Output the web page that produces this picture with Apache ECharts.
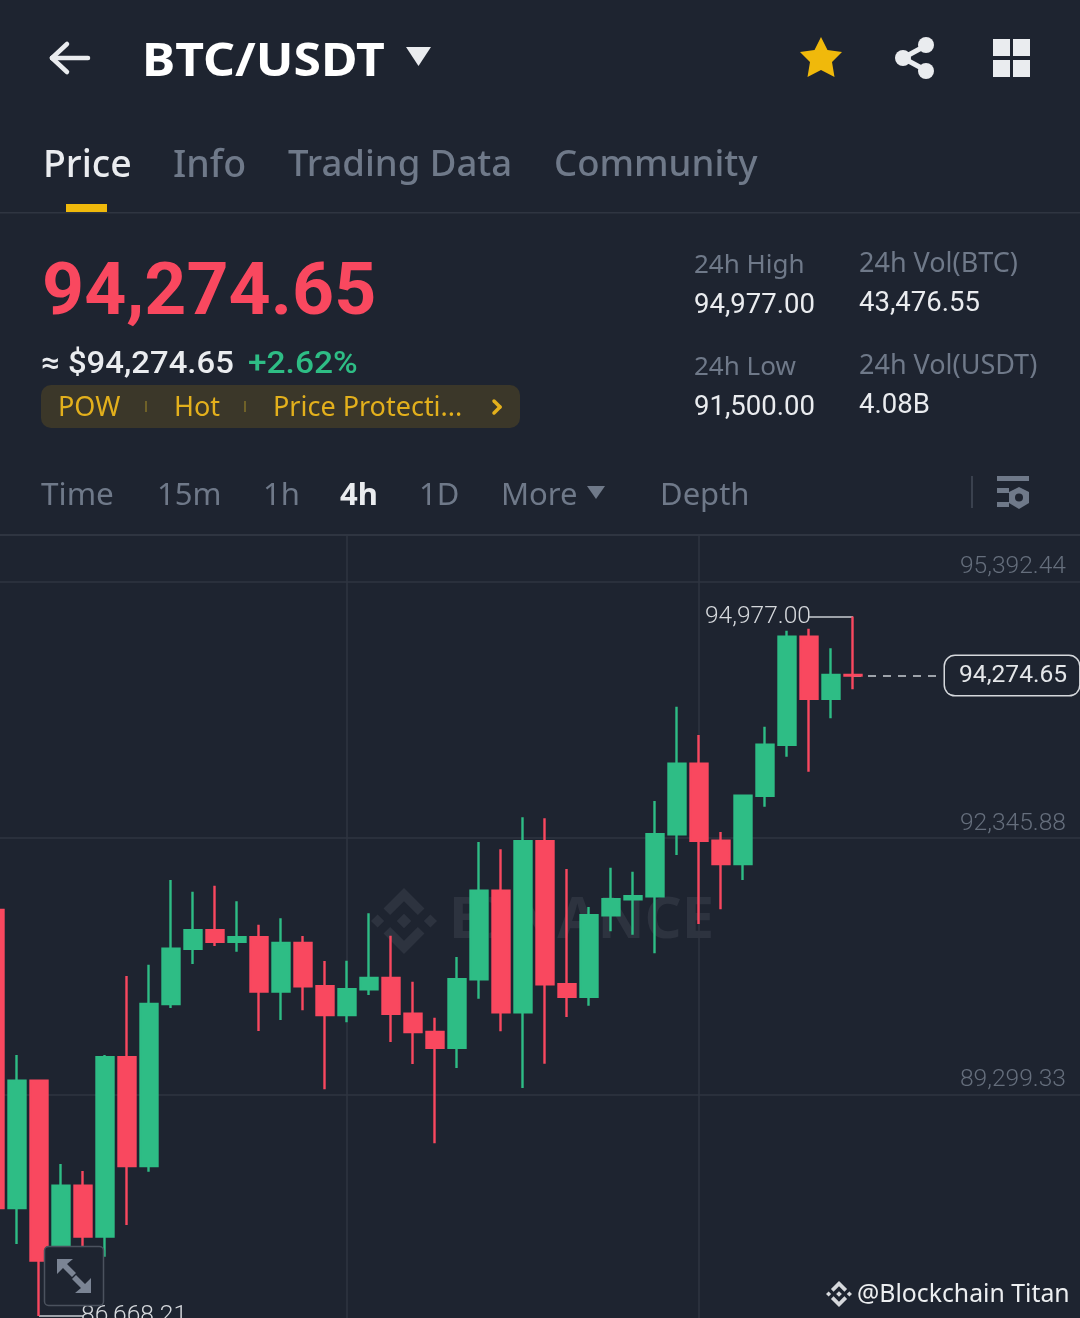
<!DOCTYPE html>
<html>
<head>
<meta charset="utf-8">
<title>BTC/USDT</title>
<script src="https://cdn.jsdelivr.net/npm/echarts@6/dist/echarts.min.js"></script>
<style>
  html, body { margin: 0; padding: 0; background: #1e2430; }
  #chart { width: 1080px; height: 1318px; }
</style>
</head>
<body>
<div id="chart"></div>
<script>
// candles, oldest first (4h)
var opens = [91491,87951,89463,87326,88216,87611,89741,88450,90374,91031,91250,91114,91167,90521,91099,90585,90244,90549,90683,90259,90042,89855,90668,91720,90276,92307,90608,90461,91428,91618,91654,92390,93228,92314,92037,92848,93454,94737,94000,94282];
var closes = [87951,89463,87326,88216,87611,89741,88450,90374,91031,91250,91114,91167,90521,91099,90585,90244,90549,90683,90259,90042,89855,90668,91720,90276,92307,90608,90461,91428,91618,91654,92390,93228,92314,92037,92848,93454,94737,94000,94282,94274.65];
var lows = [87868,87524,86668.21,87215,87488,87373,87750,88383,90327,90849,91063,90996,90054,90184,90300,89361,90157,90481,89923,89662,88720,89614,90437,90050,89377,89665,90220,90354,91238,91197,90977,92144,91325,91499,91847,92718,93312,93133,93768,94112];
var highs = [91550,89769,89470,88474,88391,89769,90707,90841,91847,91708,91779,91594,91316,91392,91182,90885,90889,91452,91186,90639,90212,90933,92298,92212,92592,92580,91978,91526,91993,91946,92785,93905,93569,92417,92848,93668,94808,94832,94599,94977];

var priceTicks = [89299.33, 92345.88, 95392.44];
var lastPrice = 94274.65;
var highIndex = 39;
var lowIndex = 2;

// axis range so the price scale lands on the same rows as the screenshot
var yMin = 86644.7;
var yMax = 95944.7;

var up = '#2ebd85';
var down = '#f9485f';
var bg = '#1e2430';
var gridColor = '#2f3541';
var grey = '#6f7989';
var white = '#eaecef';
var yellow = '#e3b01c';

// 40 candles plus the empty room on the right
var slots = Array.from({ length: 51 }, function (v, i) { return String(i); });

function fmt(v) {
  return v.toLocaleString('en-US', { minimumFractionDigits: 2, maximumFractionDigits: 2 });
}

function txt(x, y, text, size, color, weight, family, scaleX) {
  return {
    type: 'text', x: x, y: y, z: 20, scaleX: scaleX || 1, originX: 0,
    style: {
      text: text, fill: color, verticalAlign: 'middle', align: 'left',
      font: (weight || 400) + ' ' + size + 'px "' + (family || 'Noto Sans') + '"'
    }
  };
}
function poly(points, fill, z) {
  return { type: 'polygon', z: z || 20, shape: { points: points }, style: { fill: fill } };
}
function line(x1, y1, x2, y2, color, w, z) {
  return { type: 'line', z: z || 20, shape: { x1: x1, y1: y1, x2: x2, y2: y2 }, style: { stroke: color, lineWidth: w, lineCap: 'round' } };
}
function rect(x, y, w, h, r, fill, stroke, z) {
  return { type: 'rect', z: z === undefined ? 20 : z, shape: { x: x, y: y, width: w, height: h, r: r }, style: { fill: fill, stroke: stroke || null, lineWidth: stroke ? 1.5 : 0 } };
}
function dot(x, y, r, fill, z) {
  return { type: 'circle', z: z || 20, shape: { cx: x, cy: y, r: r }, style: { fill: fill } };
}
// binance mark: two chevrons and three small diamonds
function mark(cx, cy, s, fill, z) {
  function d(x, y, r) { return poly([[x, y - r], [x + r, y], [x, y + r], [x - r, y]], fill, z); }
  function chevron(sign) {
    return poly([
      [cx, cy + sign * s], [cx + 0.62 * s, cy + sign * 0.38 * s], [cx + 0.42 * s, cy + sign * 0.18 * s],
      [cx, cy + sign * 0.6 * s], [cx - 0.42 * s, cy + sign * 0.18 * s], [cx - 0.62 * s, cy + sign * 0.38 * s]
    ], fill, z);
  }
  return [chevron(-1), chevron(1), d(cx, cy, 0.22 * s), d(cx - 0.8 * s, cy, 0.2 * s), d(cx + 0.8 * s, cy, 0.2 * s)];
}

var watermark = txt(449, 921, 'BINANCE', 58, '#2d333f', 700);
watermark.z = 0;

var ui = [
  // top bar
  line(52, 58, 88, 58, white, 4.5),
  line(52, 58, 67, 44, white, 4.5),
  line(52, 58, 67, 72, white, 4.5),
  txt(142, 63, 'BTC/USDT', 46, '#ffffff', 700, 'Noto Sans', 1.085),
  poly([[406, 47], [431, 47], [418.5, 66]], white),
  poly([[821, 37], [827.5, 50], [842, 52], [832, 62], [834.5, 77], [821, 70], [807.5, 77], [810, 62], [800, 52], [814.5, 50]], '#f0b90b'),
  line(903, 58, 927, 45, white, 5), line(903, 58, 927, 71, white, 5),
  dot(903, 58, 8, white), dot(926, 45, 8, white), dot(926, 71, 8, white),
  rect(993, 39, 17, 17, 0, white), rect(1013, 39, 17, 17, 0, white),
  rect(993, 60, 17, 17, 0, white), rect(1013, 60, 17, 17, 0, white),
  // tabs
  txt(43, 166, 'Price', 37.5, white, 500),
  txt(173, 166, 'Info', 37.5, grey, 500),
  txt(288, 166, 'Trading Data', 36.5, grey, 500),
  txt(554, 166, 'Community', 36.5, grey, 500),
  rect(66, 204, 41, 8, 0, '#f0b90b'),
  rect(0, 212, 1080, 1.5, 0, gridColor),
  // price block
  txt(42, 296, fmt(lastPrice), 72, '#f9485f', 700, 'Roboto', 1.02),
  txt(41, 365, '\u2248 $' + fmt(lastPrice), 31, white, 500, 'Roboto', 1.06),
  txt(248, 365, '+2.62%', 31, up, 500, 'Roboto', 1.08),
  rect(41, 385, 479, 43, 10, '#3b3729'),
  txt(58, 408, 'POW', 27, yellow),
  rect(145, 401, 2, 11, 0, '#6f6128'),
  txt(174, 408, 'Hot', 27, yellow),
  rect(244, 401, 2, 11, 0, '#6f6128'),
  txt(273, 408, 'Price Protecti...', 27, yellow),
  line(494, 401, 500, 407, yellow, 3.5), line(500, 407, 494, 413, yellow, 3.5),
  // 24h stats
  txt(694, 266, '24h High', 26, grey),
  txt(694, 306, '94,977.00', 27, white, 400, 'Roboto', 1.02),
  txt(694, 368, '24h Low', 26, grey),
  txt(694, 408, '91,500.00', 27, white, 400, 'Roboto', 1.02),
  txt(859, 264, '24h Vol(BTC)', 27, grey),
  txt(859, 304, '43,476.55', 27, white, 400, 'Roboto', 1.02),
  txt(859, 366, '24h Vol(USDT)', 27, grey),
  txt(859, 406, '4.08B', 27, white, 400, 'Roboto', 1.02),
  // interval row
  txt(41, 496, 'Time', 31.5, grey),
  txt(157, 496, '15m', 31, grey),
  txt(263, 496, '1h', 31, grey),
  txt(340, 496, '4h', 31, white, 700),
  txt(419, 496, '1D', 31, grey),
  txt(501, 496, 'More', 31, grey),
  poly([[587, 486], [605, 486], [596, 499]], grey),
  txt(660, 496, 'Depth', 31, grey),
  rect(971, 476, 2, 32, 0, '#3a414e'),
  rect(997, 476, 32, 5, 0, grey), rect(997, 488, 12, 5, 0, grey), rect(997, 502, 12, 5, 0, grey),
  poly([[1019, 487], [1029, 492], [1029, 503], [1019, 509], [1009, 503], [1009, 492]], grey),
  dot(1019, 497.5, 4, bg),
  rect(0, 534, 1080, 2, 0, gridColor),
  watermark,
  // expand button
  rect(44.5, 1246.5, 59, 59, 4, bg, '#4b525e'),
  poly([[57, 1259], [73, 1259], [67, 1264], [76, 1273], [72, 1277], [63, 1268], [57, 1274]], '#7b8494'),
  poly([[91, 1293], [75, 1293], [81, 1288], [72, 1279], [76, 1275], [85, 1284], [91, 1278]], '#7b8494')
];
ui = ui.concat(mark(404, 921, 33, '#2d333f', 0.5));
ui = ui.concat(mark(839, 1294, 13, '#d6d8dc', 20));
ui.push(txt(857, 1295, '@Blockchain Titan', 24.8, '#eceef0', 400));

var chart = echarts.init(document.getElementById('chart'));
chart.setOption({
  animation: false,
  backgroundColor: bg,
  textStyle: { fontFamily: 'Roboto' },
  graphic: { elements: ui },
  grid: { left: -16, top: 535, width: 1122, height: 783, outerBoundsMode: 'none' },
  xAxis: {
    type: 'category', data: slots, boundaryGap: true,
    axisLine: { show: false }, axisTick: { show: false }, axisLabel: { show: false }, splitLine: { show: false }
  },
  yAxis: {
    type: 'value', position: 'right', min: yMin, max: yMax, scale: true,
    axisLine: { show: false },
    axisTick: { show: false, customValues: priceTicks },
    splitLine: { show: true, lineStyle: { color: gridColor, width: 1.5 } },
    axisLabel: {
      inside: true, margin: 40, customValues: priceTicks,
      color: '#656e7c', fontSize: 24.6, fontFamily: 'Roboto', fontWeight: 300,
      verticalAlign: 'bottom', padding: [0, 0, 2, 0],
      formatter: fmt
    }
  },
  series: [
    {
      // vertical rules, leaders and the last price line sit under the candles
      type: 'line', data: [], z: 1, silent: true,
      markLine: {
        z: 1, silent: true, symbol: 'none', animation: false, precision: 2,
        lineStyle: { color: gridColor, width: 1.5, type: 'solid' },
        label: { show: false },
        data: [
          [{ coord: [16, yMin] }, { coord: [16, yMax] }],
          [{ coord: [32, yMin] }, { coord: [32, yMax] }],
          [{
            coord: [highIndex, highs[highIndex]],
            lineStyle: { color: '#c9cdd2', width: 1.5, type: 'solid' },
            label: { show: true, position: 'end', distance: -2, color: '#d5d8dc', fontSize: 24.6, fontFamily: 'Roboto', fontWeight: 300, padding: [4, 0, 0, 0], formatter: fmt(highs[highIndex]) }
          }, { coord: [highIndex - 2, highs[highIndex]] }],
          [{
            coord: [lowIndex, lows[lowIndex]],
            lineStyle: { color: '#c9cdd2', width: 1.5, type: 'solid' },
            label: { show: true, position: 'end', distance: -2, color: '#d5d8dc', fontSize: 24.6, fontFamily: 'Roboto', fontWeight: 300, formatter: fmt(lows[lowIndex]) }
          }, { coord: [lowIndex + 2, lows[lowIndex]] }],
          [{
            coord: [highIndex, lastPrice],
            lineStyle: { color: '#c9cdd2', width: 1.5, type: [8, 7] },
            label: {
              show: true, position: 'end', distance: 4, color: '#e4e6e9', fontSize: 24.6, fontFamily: 'Roboto',
              backgroundColor: bg, borderColor: '#d5d8dc', borderWidth: 1.5, borderRadius: 10,
              padding: [11, 12, 3, 14], formatter: fmt(lastPrice)
            }
          }, { coord: [highIndex + 4, lastPrice] }]
        ]
      }
    },
    {
      type: 'candlestick', z: 2, barWidth: 17,
      data: opens.map(function (o, i) { return [o, closes[i], lows[i], highs[i]]; }),
      itemStyle: { color: up, color0: down, borderColor: up, borderColor0: down, borderWidth: 2.4 }
    }
  ]
});
</script>
</body>
</html>
